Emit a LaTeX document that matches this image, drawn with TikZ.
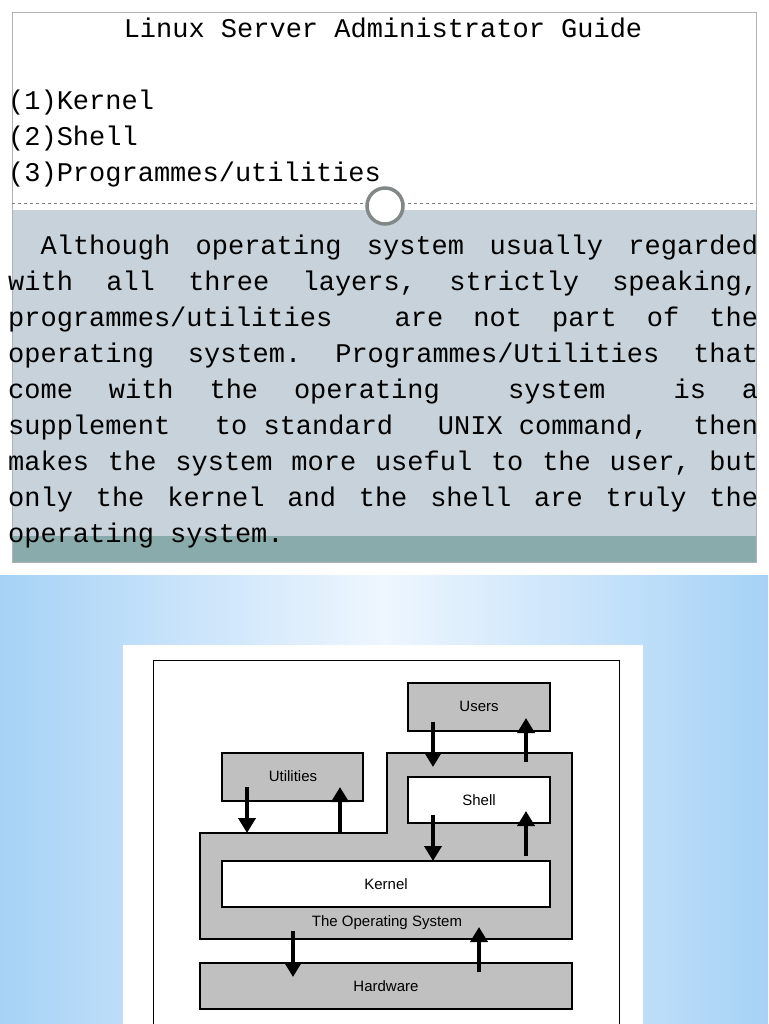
\documentclass[tikz,border=0pt]{standalone}
\usepackage{fontspec}
\setmonofont{Liberation Mono}
\newfontfamily\arialf{Liberation Sans}
\usetikzlibrary{arrows.meta}
\definecolor{bodyg}{HTML}{C8D2DA}
\definecolor{teal}{HTML}{8AABAB}
\definecolor{sky}{HTML}{A6D2F6}
\definecolor{skyl}{HTML}{EEF6FE}
\definecolor{boxg}{HTML}{C0C0C0}
\tikzset{
  mono/.style={font=\ttfamily\fontsize{27}{36}\selectfont, inner sep=0, anchor=base west},
  gbox/.style={draw=black, line width=1.2, fill=boxg, font=\arialf\fontsize{15}{17}\selectfont},
  wbox/.style={draw=black, line width=1.2, fill=white, font=\arialf\fontsize{15}{17}\selectfont},
  lbl/.style={font=\arialf\fontsize{15}{17}\selectfont},
  arr/.style={line width=4.5, -{Triangle[width=17,length=15]}},
}
\newcommand{\jl}[1]{\hbox to 750pt{#1}}
\begin{document}
\begin{tikzpicture}[x=1pt,y=-1pt]
\useasboundingbox (0,0) rectangle (768,1024);
\fill[white] (0,0) rectangle (768,1024);
% top slide
\fill[bodyg] (12,210) rectangle (756,536);
\fill[teal] (12,536) rectangle (756,562);
\draw[gray!60, line width=0.6] (12,12) rectangle (756,562);
\draw[gray, dashed, line width=0.4] (12,203) -- (756,203);
\node[mono, anchor=base] (title) at (383,38) {Linux Server Administrator Guide};
\node[mono] (l1) at (8,110) {(1)Kernel};
\node[mono] (l2) at (8,146) {(2)Shell};
\node[mono] (l3) at (8,182) {(3)Programmes/utilities};
\node[circle, draw=gray!80!teal, line width=3.5, fill=white, minimum size=36, inner sep=0] (knob) at (385,206) {};
\begin{scope}[every node/.style={mono}]
\node at (8,254) {\jl{\ \ Although\hfill operating\hfill system\hfill usually\hfill regarded}};
\node at (8,290) {\jl{with\hfill all\hfill three\hfill layers,\hfill strictly\hfill speaking,}};
\node at (8,326) {\jl{programmes/utilities\hfill\ \ are\hfill not\hfill part\hfill of\hfill the}};
\node at (8,362) {\jl{operating\hfill system.\hfill Programmes/Utilities\hfill that}};
\node at (8,398) {\jl{come\hfill with\hfill the\hfill operating\hfill\ \ system\hfill\ \ is\hfill a}};
\node at (8,434) {\jl{supplement\hfill\ to standard\hfill\ UNIX command,\hfill\ then}};
\node at (8,470) {\jl{makes\hfill the\hfill system\hfill more\hfill useful\hfill to\hfill the\hfill user,\hfill but}};
\node at (8,506) {\jl{only\hfill the\hfill kernel\hfill and\hfill the\hfill shell\hfill are\hfill truly\hfill the}};
\node at (8,542) {operating system.};
\end{scope}
% lower background
\shade[left color=sky, right color=sky, middle color=skyl] (0,575) rectangle (768,1024);
\fill[white] (123,645) rectangle (643,1024);
\draw[black, line width=1] (153,1024) -- (153,660) -- (619,660) -- (619,1024);
% diagram
\draw[line width=1.2, fill=boxg] (200,833) -- (387,833) -- (387,753) -- (572,753) -- (572,939) -- (200,939) -- cycle;
\node[gbox, minimum width=142, minimum height=48, inner sep=0] (users) at (479,707) {};
\node[lbl] at (479,706) {Users};
\node[gbox, minimum width=141, minimum height=48, inner sep=0] (util) at (292.5,777) {};
\node[lbl] at (293,776) {Utilities};
\node[wbox, minimum width=142, minimum height=46, inner sep=0] (shell) at (479,800) {Shell};
\node[wbox, minimum width=328, minimum height=46, inner sep=0] (kernel) at (386,884) {Kernel};
\node[lbl] (os) at (387,923) {The Operating System};
\node[gbox, minimum width=372, minimum height=46, inner sep=0] (hw) at (386,986) {Hardware};
\coordinate (a1) at (433,722); \coordinate (b1) at (433,767);
\coordinate (a2) at (526,762); \coordinate (b2) at (526,718);
\coordinate (a3) at (247,787); \coordinate (b3) at (247,833);
\coordinate (a4) at (340,833); \coordinate (b4) at (340,787);
\coordinate (a5) at (433,815); \coordinate (b5) at (433,861);
\coordinate (a6) at (526,856); \coordinate (b6) at (526,811);
\coordinate (a7) at (293,931); \coordinate (b7) at (293,977);
\coordinate (a8) at (479,972); \coordinate (b8) at (479,927);
\foreach \i in {1,...,8} \draw[arr] (a\i) -- (b\i);
\end{tikzpicture}
\end{document}
